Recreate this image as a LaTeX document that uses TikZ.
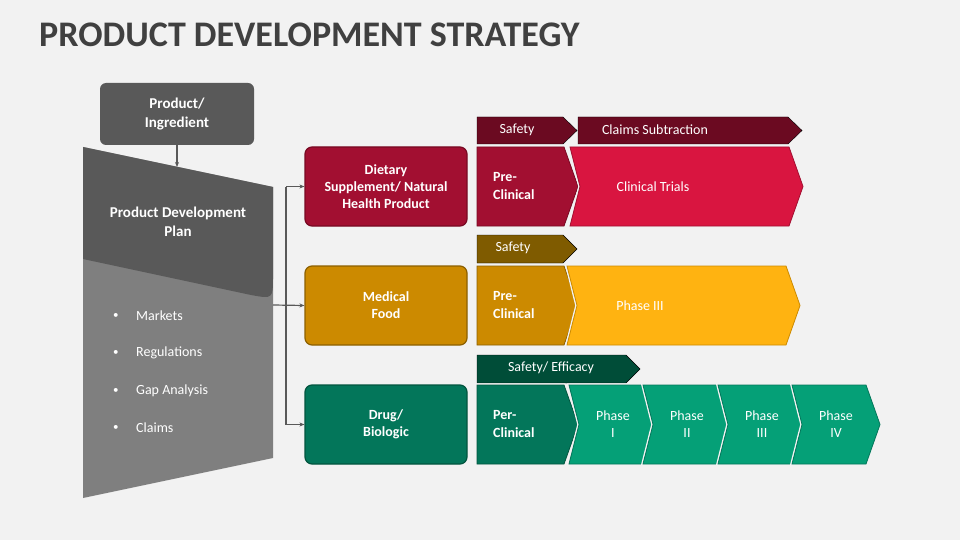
\documentclass[tikz,border=0pt]{standalone}
\usepackage{fontspec}
\setmainfont{Carlito}
\usetikzlibrary{arrows.meta}

\definecolor{bgcol}{HTML}{F2F2F2}
\definecolor{titlecol}{HTML}{404040}
\definecolor{plandark}{HTML}{595959}
\definecolor{planlight}{HTML}{7F7F7F}
\definecolor{redmain}{HTML}{A20F31}
\definecolor{redline}{HTML}{780A23}
\definecolor{redlite}{HTML}{D91540}
\definecolor{redbar}{HTML}{6B0A21}
\definecolor{goldmain}{HTML}{CC8A00}
\definecolor{goldline}{HTML}{8C6000}
\definecolor{goldlite}{HTML}{FFB311}
\definecolor{goldbar}{HTML}{7F5B00}
\definecolor{greenmain}{HTML}{03765A}
\definecolor{greenline}{HTML}{02553F}
\definecolor{greenlite}{HTML}{05A077}
\definecolor{greenbar}{HTML}{004D38}

% chevron: left, right, top, bottom, notch depth, style
\newcommand{\chev}[6]{%
  \filldraw[#6] (#1,#3) -- ({#2-14},#3) -- (#2,{(#3+#4)/2}) -- ({#2-14},#4)
    -- (#1,#4) -- ({#1+#5},{(#3+#4)/2}) -- cycle;}

\begin{document}
\begin{tikzpicture}[x=1pt,y=-1pt,
  mainbox/.style={draw, rounded corners=7pt, line width=1.2pt, minimum width=162pt,
    minimum height=79pt, inner sep=2pt, text=white, align=center,
    font=\bfseries\fontsize{14}{17}\selectfont},
  chevtext/.style={text=white, inner sep=0pt, align=center,
    font=\fontsize{14}{17}\selectfont},
  steptext/.style={text=white, inner sep=0pt, anchor=west, align=left,
    font=\bfseries\fontsize{14}{18}\selectfont},
  bullettext/.style={text=white, inner sep=0pt, anchor=west,
    font=\fontsize{14}{16}\selectfont},
  stepshape/.style={preaction={draw=bgcol, line width=3.5pt}, line width=0.8pt},
  link/.style={draw=plandark, line width=1.2pt, -{Stealth[length=5pt,width=4pt]}}]

\useasboundingbox (0,0) rectangle (960,540);
\fill[bgcol] (0,0) rectangle (960,540);

% title
\node[anchor=west, inner sep=0pt, text=titlecol, font=\bfseries\fontsize{36}{40}\selectfont]
  (title) at (39,35) {PRODUCT DEVELOPMENT STRATEGY};

% plan funnel
\fill[planlight] (83,147) -- (273,187) -- (273,458) -- (83,498) -- cycle;
\fill[plandark] (83,147) -- (273,187) -- (273,276) .. controls (273,299) .. (251,295)
  -- (83,259) -- cycle;
\node[text=white, align=center, inner sep=0pt, font=\bfseries\fontsize{15}{19}\selectfont]
  (plan) at (178,222) {Product Development\\Plan};
\coordinate (planin) at (177,167);
\coordinate (planout) at (273,305);

\foreach \y/\t [count=\i] in {316/Markets, 353/Regulations, 391/Gap Analysis, 428/Claims} {
  \node[bullettext, font=\fontsize{11}{13}\selectfont] (dot\i) at (113,\y) {•};
  \node[bullettext] (item\i) at (136,\y) {\t};
}

% product / ingredient
\node[fill=plandark, rounded corners=6pt, minimum width=154pt, minimum height=62pt,
  text=white, align=center, font=\bfseries\fontsize{15}{19}\selectfont]
  (prod) at (177,114) {Product/\\Ingredient};
\draw[link] (prod.south) -- (planin);

% main boxes
\node[mainbox, fill=redmain, draw=redline] (dsbox) at (386,186.5)
  {Dietary\\Supplement/ Natural\\Health Product};
\node[mainbox, fill=goldmain, draw=goldline] (mfbox) at (386,305.5) {Medical\\Food};
\node[mainbox, fill=greenmain, draw=greenline] (dbbox) at (386,424.5) {Drug/\\Biologic};

% connectors
\coordinate (trunk) at (286,305);
\draw[draw=plandark, line width=1.2pt] (trunk |- dsbox.west) -- (trunk |- dbbox.west);
\draw[link] (trunk |- dsbox.west) -- (dsbox.west);
\draw[link] (planout) -- (mfbox.west);
\draw[link] (trunk |- dbbox.west) -- (dbbox.west);

% row 1
\chev{477}{577}{117}{144}{0}{fill=redbar}
\chev{578}{802}{117}{144}{0}{fill=redbar}
\node[chevtext] (safety1) at (517,130) {Safety};
\node[chevtext] (claims) at (655,130) {Claims Subtraction};
\chev{477}{578}{147}{226}{0}{stepshape, fill=redmain, draw=redline}
\chev{570}{803}{147}{226}{10}{stepshape, fill=redlite, draw=redmain}
\node[steptext] (pre1) at (493,186.5) {Pre-\\Clinical};
\node[chevtext] (trials) at (653,186.5) {Clinical Trials};

% row 2
\chev{477}{577}{235}{263}{0}{fill=goldbar}
\node[chevtext] (safety2) at (513,248) {Safety};
\chev{477}{578}{266}{345}{0}{stepshape, fill=goldmain, draw=goldline}
\chev{567}{800}{266}{345}{10}{stepshape, fill=goldlite, draw=goldmain}
\node[steptext] (pre2) at (493,305.5) {Pre-\\Clinical};
\node[chevtext] (phase3b) at (640,305.5) {Phase III};

% row 3
\chev{477}{640}{355}{383}{0}{fill=greenbar}
\node[chevtext] (safety3) at (551,368) {Safety/ Efficacy};
\chev{477}{578}{385}{464}{0}{stepshape, fill=greenmain, draw=greenline}
\node[steptext] (pre3) at (493,424.5) {Per-\\Clinical};
\foreach \l/\t [count=\i] in {569/I, 643/II, 718/III, 792/IV} {
  \chev{\l}{\l+88}{385}{464}{10}{stepshape, fill=greenlite, draw=greenmain}
  \node[chevtext] (phase\i) at (\l+44,424.5) {Phase\\\t};
}
\end{tikzpicture}
\end{document}
